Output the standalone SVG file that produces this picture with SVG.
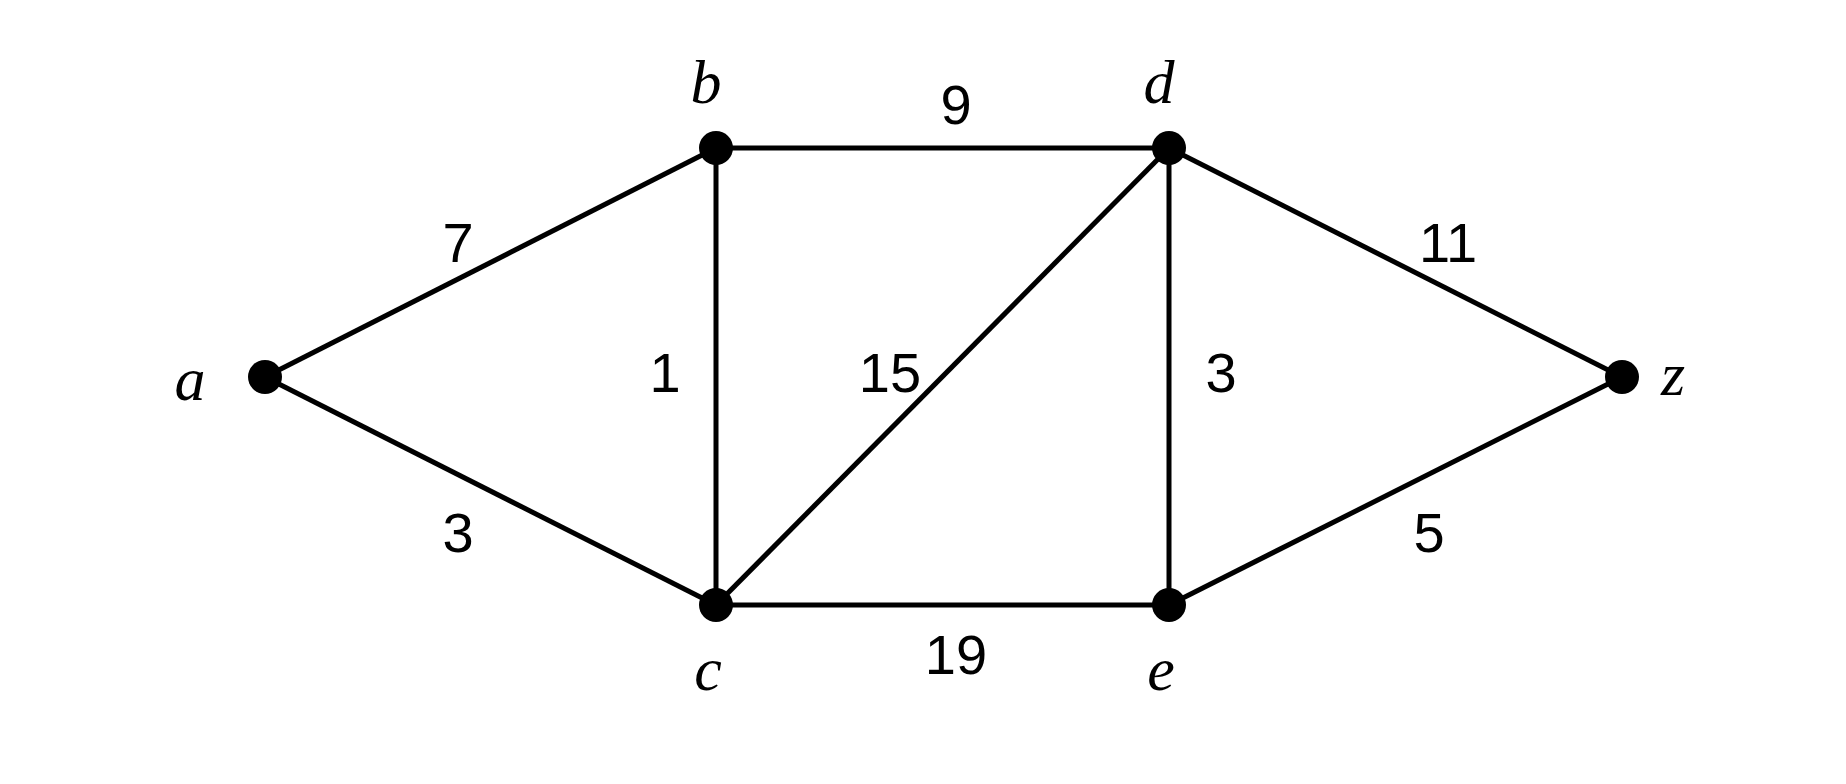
<svg xmlns="http://www.w3.org/2000/svg" width="1846" height="784" viewBox="0 0 1846 784">
<style>
.e{stroke:#000;stroke-width:5;fill:none}
.n{fill:#000}
.w{font-family:"Liberation Sans",Arial,sans-serif;font-size:56px;text-anchor:middle;dominant-baseline:central}
.l{font-family:"Liberation Serif","Times New Roman",serif;font-style:italic;font-size:62px;text-anchor:middle;dominant-baseline:central}
</style>
<rect width="1846" height="784" fill="#fff"/>
<g id="edges">
<line class="e" x1="265" y1="377" x2="716" y2="148"/>
<line class="e" x1="265" y1="377" x2="716" y2="605"/>
<line class="e" x1="716" y1="148" x2="1169" y2="148"/>
<line class="e" x1="716" y1="148" x2="716" y2="605"/>
<line class="e" x1="716" y1="605" x2="1169" y2="148"/>
<line class="e" x1="1169" y1="148" x2="1169" y2="605"/>
<line class="e" x1="716" y1="605" x2="1169" y2="605"/>
<line class="e" x1="1169" y1="148" x2="1622" y2="377"/>
<line class="e" x1="1169" y1="605" x2="1622" y2="377"/>
</g>
<g id="weights">
<text class="w" x="458" y="242">7</text>
<text class="w" x="956" y="104">9</text>
<text class="w" x="1448" y="242">11</text>
<text class="w" x="665" y="372">1</text>
<text class="w" x="890" y="372">15</text>
<text class="w" x="1221" y="372">3</text>
<text class="w" x="458" y="532">3</text>
<text class="w" x="1429" y="532">5</text>
<text class="w" x="956" y="654">19</text>
</g>
<g id="node-a"><circle class="n" cx="265" cy="377" r="17"/><text class="l" x="190" y="379">a</text></g>
<g id="node-b"><circle class="n" cx="716" cy="148" r="17"/><text class="l" x="706" y="82">b</text></g>
<g id="node-d"><circle class="n" cx="1169" cy="148" r="17"/><text class="l" x="1159" y="82">d</text></g>
<g id="node-z"><circle class="n" cx="1622" cy="377" r="17"/><text class="l" x="1673" y="374">z</text></g>
<g id="node-c"><circle class="n" cx="716" cy="605" r="17"/><text class="l" x="708" y="669">c</text></g>
<g id="node-e"><circle class="n" cx="1169" cy="605" r="17"/><text class="l" x="1161" y="669">e</text></g>
</svg>
